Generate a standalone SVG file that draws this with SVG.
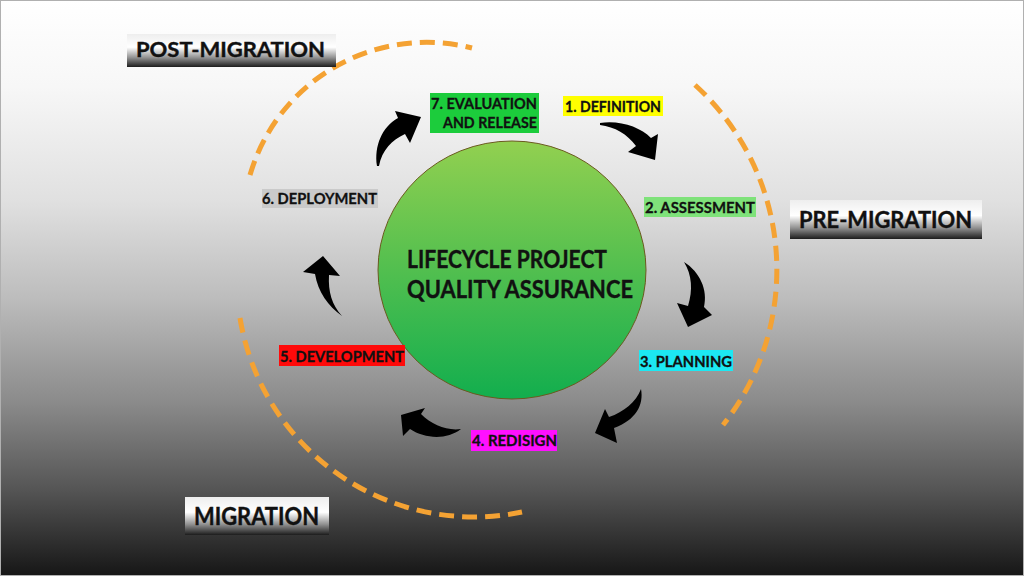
<svg xmlns="http://www.w3.org/2000/svg" width="1024" height="576" viewBox="0 0 1024 576">
<defs>
<linearGradient id="bg" x1="0" y1="0" x2="0" y2="1">
<stop offset="0" stop-color="#ffffff"/>
<stop offset="0.15" stop-color="#f7f7f7"/>
<stop offset="0.35" stop-color="#e0e0e0"/>
<stop offset="0.52" stop-color="#bcbcbc"/>
<stop offset="0.7" stop-color="#8a8a8a"/>
<stop offset="0.85" stop-color="#555555"/>
<stop offset="1" stop-color="#161616"/>
</linearGradient>
<linearGradient id="ball" x1="0" y1="0" x2="0" y2="1">
<stop offset="0" stop-color="#92d050"/>
<stop offset="1" stop-color="#12ae4e"/>
</linearGradient>
<linearGradient id="tag" x1="0" y1="0" x2="0" y2="1">
<stop offset="0" stop-color="#eeeeee"/>
<stop offset="0.4" stop-color="#ffffff"/>
<stop offset="0.72" stop-color="#909090"/>
<stop offset="1" stop-color="#1c1c1c"/>
</linearGradient>
</defs>
<style>
.lbl{font-family:Lato,"Open Sans","Liberation Sans",sans-serif;font-weight:bold;font-size:16px;fill:#111;stroke:#111;stroke-width:0.3}
.big{font-family:Lato,"Open Sans","Liberation Sans",sans-serif;font-weight:bold;fill:#111;stroke:#111;stroke-width:0.4}
.arc{fill:none;stroke:#f4a233;stroke-width:5;stroke-dasharray:15 8}
.arr{fill:#000}
.tagbox{fill:url(#tag)}
</style>
<rect x="0" y="0" width="1024" height="576" fill="url(#bg)"/>
<rect x="0.5" y="0.5" width="1023" height="575" fill="none" stroke="#b0b0b0" stroke-width="1"/>

<g id="phase-arcs">
<path class="arc" d="M 250,175 A 184 184 0 0 1 472,48"/>
<path class="arc" d="M 695,85 A 250 250 0 0 1 723,425"/>
<path class="arc" d="M 240,318 A 237 237 0 0 0 522,512"/>
</g>

<g id="center">
<ellipse cx="512" cy="270" rx="134" ry="129" fill="url(#ball)" stroke="#6b5a20" stroke-width="1"/>
<text class="big" x="407" y="268" font-size="24" textLength="200" lengthAdjust="spacingAndGlyphs">LIFECYCLE PROJECT</text>
<text class="big" x="407" y="298" font-size="24" textLength="226" lengthAdjust="spacingAndGlyphs">QUALITY ASSURANCE</text>
</g>

<g id="connectors">
<path class="arr" d="M 377,166 C 374,146 382,127 398,118 L 395,111 L 421,117 L 410,143 L 405,134 C 392,140 382,150 379,166 Z"/>
<path class="arr" d="M 600,123 C 620,120 640,127 651,138 L 658,134 L 655,160 L 628,152 L 636,146 C 627,134 615,127 600,125 Z"/>
<path class="arr" d="M 684,262 C 700,272 708,290 704,307 L 712,315 L 688,327 L 677,303 L 688,306 C 693,290 692,275 684,262 Z"/>
<path class="arr" d="M 641,389 C 644,405 636,420 614,428 L 617,443 L 595,433 L 605,409 L 609,417 C 624,412 636,402 641,389 Z"/>
<path class="arr" d="M 461,429 C 447,431 432,425 421,414 L 425,408 L 401,415 L 403,436 L 410,429 C 425,439 447,440 461,429 Z"/>
<path class="arr" d="M 342,316 C 328,306 318,292 315,274 L 303,272 L 323,256 L 340,276 L 329,275 C 328,292 332,305 342,316 Z"/>
</g>

<g id="step1">
<rect x="563" y="96" width="100" height="20" fill="#ffff00"/>
<text class="lbl" x="565" y="112" textLength="96" lengthAdjust="spacingAndGlyphs">1. DEFINITION</text>
</g>
<g id="step2">
<rect x="644" y="197" width="112" height="20" fill="#7fe27a"/>
<text class="lbl" x="645" y="213" textLength="110" lengthAdjust="spacingAndGlyphs">2. ASSESSMENT</text>
</g>
<g id="step3">
<rect x="639" y="350" width="94" height="21" fill="#1ce8f2"/>
<text class="lbl" x="640" y="367" textLength="92" lengthAdjust="spacingAndGlyphs">3. PLANNING</text>
</g>
<g id="step4">
<rect x="471" y="430" width="86" height="21" fill="#ff10ff"/>
<text class="lbl" x="472" y="446" textLength="85" lengthAdjust="spacingAndGlyphs">4. REDISIGN</text>
</g>
<g id="step5">
<rect x="279" y="345" width="126" height="21" fill="#ff0a0a"/>
<text class="lbl" x="280" y="362" textLength="124" lengthAdjust="spacingAndGlyphs">5. DEVELOPMENT</text>
</g>
<g id="step6">
<rect x="262" y="189" width="116" height="19" fill="#cacaca"/>
<text class="lbl" x="262" y="204" textLength="115" lengthAdjust="spacingAndGlyphs">6. DEPLOYMENT</text>
</g>
<g id="step7">
<rect x="430" y="93" width="109" height="40" fill="#1ccc3c"/>
<text class="lbl" x="431" y="109" textLength="106" lengthAdjust="spacingAndGlyphs">7. EVALUATION</text>
<text class="lbl" x="443" y="128" textLength="94" lengthAdjust="spacingAndGlyphs">AND RELEASE</text>
</g>

<g id="post-migration">
<rect class="tagbox" x="127" y="34" width="209" height="33"/>
<text class="big" x="136" y="57" font-size="21" textLength="189" lengthAdjust="spacingAndGlyphs">POST-MIGRATION</text>
</g>
<g id="pre-migration">
<rect class="tagbox" x="790" y="200" width="192" height="39"/>
<text class="big" x="799" y="228" font-size="23" textLength="173" lengthAdjust="spacingAndGlyphs">PRE-MIGRATION</text>
</g>
<g id="migration">
<rect class="tagbox" x="185" y="497" width="144" height="38"/>
<text class="big" x="194" y="525" font-size="24" textLength="125" lengthAdjust="spacingAndGlyphs">MIGRATION</text>
</g>
</svg>
